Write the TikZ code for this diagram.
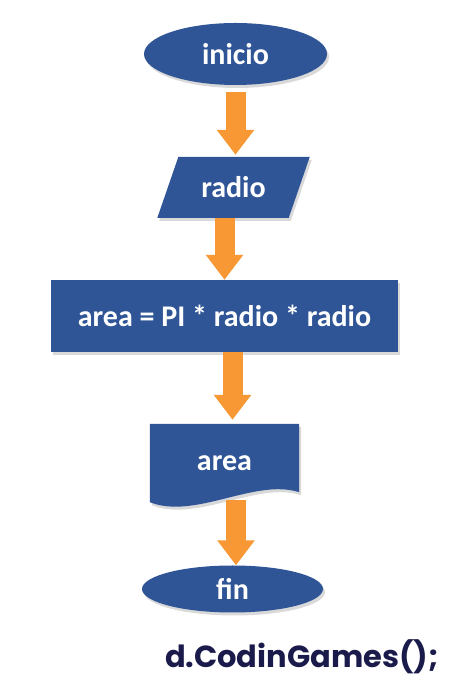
\documentclass[tikz,border=0pt]{standalone}
\usepackage{fontspec}
\setmainfont{Carlito}
\newfontfamily\firma{Poppins}
\usetikzlibrary{shapes.geometric,arrows.meta,shadows,backgrounds}

\definecolor{bloquecolor}{RGB}{47, 85, 151}
\definecolor{flechacolor}{RGB}{247, 152, 52}
\definecolor{firmacolor}{RGB}{27, 27, 75}

\tikzset{
  bloque/.style={fill=bloquecolor, text=white, font=\fontsize{30}{30}\selectfont\bfseries,
    drop shadow={shadow xshift=2pt, shadow yshift=-3pt, opacity=0.3}},
  terminal/.style={bloque, ellipse, inner sep=0pt},
  entrada/.style={bloque, trapezium, trapezium left angle=60, trapezium right angle=120,
    trapezium stretches=true, inner sep=0pt},
  proceso/.style={bloque, rectangle, inner sep=0pt},
  flecha/.style={line width=20pt, draw=flechacolor,
    -{Triangle[width=36pt, length=25pt, fill=flechacolor]}}
}

\begin{document}
\begin{tikzpicture}[x=1pt, y=1pt]
            \useasboundingbox (0,0) rectangle (448,679);
            % Bloques del diagrama
            \node[terminal, minimum width=183pt, minimum height=62pt] (inicio) at (235.5,625) {inicio};
            \node[entrada, minimum width=153pt, minimum height=61pt] (radio) at (233.5,491.5) {radio};
            \node[proceso, minimum width=347pt, minimum height=72pt] (calculo) at (224.5,363) {area = PI * radio * radio};
            \node[text=white, font=\fontsize{30}{30}\selectfont\bfseries, minimum width=149pt,
              minimum height=78pt, inner sep=0pt] (salida) at (224.5,216) {area};
            \node[terminal, minimum width=181pt, minimum height=47pt] (fin) at (232.5,90) {fin};
            
            % Documento de salida (borde ondulado)
            \begin{scope}[on background layer]
              \fill[bloquecolor, drop shadow={shadow xshift=2pt, shadow yshift=-3pt, opacity=0.3}]
                (salida.south west) -- (salida.north west) -- (salida.north east)
                -- ([yshift=10pt]salida.south east)
                .. controls (255,201) and (195,159) .. (salida.south west) -- cycle;
            \end{scope}
            
            % Flechas
            \draw[flecha] ([yshift=-7pt]inicio.south) -- ([yshift=2pt]inicio.south |- radio.north);
            \draw[flecha] (calculo.north |- radio.south) -- (calculo.north);
            \draw[flecha] ([xshift=8pt]calculo.south) -- ([xshift=8pt,yshift=4pt]calculo.south |- salida.north);
            \draw[flecha] ([xshift=3.5pt,yshift=2pt]fin.north |- salida.south) -- ([xshift=3.5pt]fin.north);
            
            % Firma
            \node[text=firmacolor, font=\firma\fontsize{30.5}{30.5}\selectfont\bfseries, anchor=base, inner sep=0pt] (firma) at (302,12) {d.CodinGames();};
\end{tikzpicture}
\end{document}
